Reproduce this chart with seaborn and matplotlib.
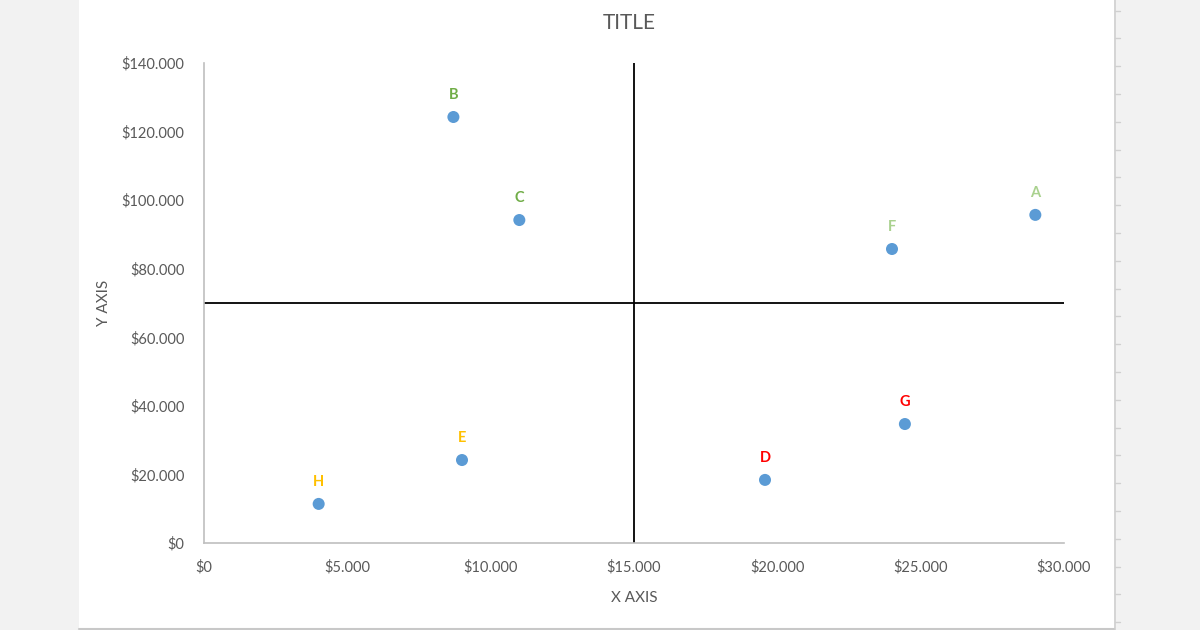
import matplotlib
matplotlib.use("Agg")
import matplotlib.pyplot as plt
import seaborn as sns
import pandas as pd
from matplotlib.patches import Rectangle
from matplotlib.lines import Line2D
from matplotlib.ticker import FuncFormatter

# Data
labels = ["A", "B", "C", "D", "E", "F", "G", "H"]
x_values = [29000, 8700, 11000, 19570, 9000, 24000, 24450, 4000]
y_values = [95700, 124250, 94200, 18400, 24200, 85750, 34700, 11400]
label_colors = ["#a9d18e", "#70ad47", "#70ad47", "#ff0000", "#ffc000", "#a9d18e", "#ff0000", "#ffc000"]
x_divider = 15000
y_divider = 70000
x_ticks = [0, 5000, 10000, 15000, 20000, 25000, 30000]
y_ticks = [0, 20000, 40000, 60000, 80000, 100000, 120000, 140000]

df = pd.DataFrame({"label": labels, "x": x_values, "y": y_values})

sns.set_theme(style="white")
plt.rcParams["font.family"] = ["Lato", "DejaVu Sans"]

fig = plt.figure(figsize=(12, 6.3), dpi=100)
fig.patch.set_facecolor("#f2f2f2")
W, H = 1200, 630
# white chart area
fig.add_artist(Rectangle((79 / W, 1 - 628 / H), (1114 - 79) / W, 628 / H,
                         transform=fig.transFigure, facecolor="white", edgecolor="none", zorder=0))
# right border and spreadsheet row ticks
fig.add_artist(Line2D([1114.5 / W, 1114.5 / W], [0, 1], transform=fig.transFigure, color="#d0d0d0", lw=1.2))
fig.add_artist(Line2D([79 / W, 1114 / W], [1 - 628.5 / H, 1 - 628.5 / H], transform=fig.transFigure, color="#c8c8c8", lw=1.5))
yy = 10.5
while yy < H:
    fig.add_artist(Line2D([1114.5 / W, 1120 / W], [1 - yy / H, 1 - yy / H], transform=fig.transFigure, color="#d0d0d0", lw=1))
    yy += 27.8

ax = fig.add_axes([204 / W, 1 - 543 / H, 860 / W, 480 / H])
ax.set_facecolor("none")

ax.axvline(x_divider, color="black", lw=1.3, zorder=1)
ax.axhline(y_divider, color="black", lw=1.3, zorder=1)

sns.scatterplot(data=df, x="x", y="y", color="#5b9bd5", s=75, edgecolor="none", ax=ax, zorder=3)

for lab, xv, yv, c in zip(labels, x_values, y_values, label_colors):
    ax.annotate(lab, (xv, yv), xytext=(0, 11), textcoords="offset points", ha="center", va="bottom",
                color=c, fontsize=10.5, fontweight="bold")

ax.set_xlim(0, 30000)
ax.set_ylim(0, 140000)
ax.set_xticks(x_ticks)
ax.set_yticks(y_ticks)

def fmt(v, pos):
    v = int(round(v))
    if v == 0:
        return "$0"
    return "$" + f"{v:,}".replace(",", ".")

ax.xaxis.set_major_formatter(FuncFormatter(fmt))
ax.yaxis.set_major_formatter(FuncFormatter(fmt))
ax.tick_params(axis="both", labelsize=10.5, colors="#595959", length=0, pad=12)
ax.tick_params(axis="y", pad=14)

for s in ["top", "right"]:
    ax.spines[s].set_visible(False)
for s in ["left", "bottom"]:
    ax.spines[s].set_color("#bfbfbf")
    ax.spines[s].set_linewidth(1.2)

ax.set_xlabel("X AXIS", fontsize=11, color="#595959", labelpad=12)
ax.set_ylabel("Y AXIS", fontsize=11, color="#595959", labelpad=20)
ax.yaxis.set_label_coords((111 - 204) / 860, 0.5)
fig.text(629 / W, 1 - 23 / H, "TITLE", ha="center", va="center", fontsize=15, color="#595959")

fig.savefig("out.png", dpi=100, facecolor=fig.get_facecolor())
